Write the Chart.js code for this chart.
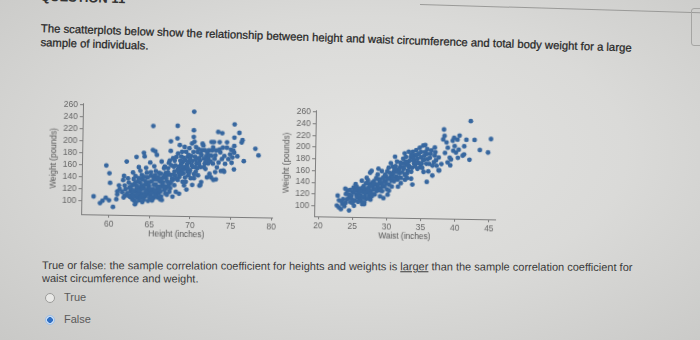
<!DOCTYPE html>
<html>
<head>
<meta charset="utf-8">
<script src="https://cdn.jsdelivr.net/npm/chart.js@4.4.0/dist/chart.umd.min.js"></script>
<style>
  html, body { margin: 0; width: 700px; height: 340px; overflow: hidden; }
  body {
    position: relative;
    font-family: "Liberation Sans", Arial, sans-serif;
    background:
      radial-gradient(ellipse 75% 80% at 52% 45%, #e3e3e1 0%, #dadad8 50%, #c8c8c6 100%);
  }
  .qnum { position: absolute; left: 40px; top: -10px; font-size: 13px; font-weight: bold; color: #333; transform: rotate(1.6deg); }
  .topline { position: absolute; left: 420px; top: 4px; width: 290px; height: 1px; background: #9a9a98; transform: rotate(1.7deg); transform-origin: 0 0; }
  .inbox { position: absolute; left: 691px; top: 8px; width: 20px; height: 36px; border: 1px solid #a5a5a3; border-radius: 3px; }
  .intro {
    position: absolute; left: 41px; top: 21px; width: 660px;
    font-size: 11.3px; line-height: 14px; color: #272727;
    -webkit-text-stroke: 0.25px #272727;
    transform: rotate(1.9deg); transform-origin: 0 7px;
  }
  .plots { position: absolute; left: 0; top: 0; width: 700px; height: 340px; transform: rotate(1deg); transform-origin: 300px 165px; }
  .plots canvas { position: absolute; }
  #heightChart { left: 30px; top: 90px; }
  #waistChart { left: 270px; top: 90px; }
  .question {
    position: absolute; left: 42px; top: 259px; width: 650px;
    font-size: 11px; line-height: 12.5px; color: #3a3a3a;
    transform: rotate(0.2deg); transform-origin: 0 6px;
  }
  .question u { text-decoration-thickness: 1px; }
  .opt { position: absolute; left: 45px; font-size: 11px; color: #5a5a5a; }
  .opt span.r {
    position: absolute; left: 0; top: 1px; width: 8px; height: 8px; border-radius: 50%;
    border: 1px solid #9c9c9a; background: #e9e9e7;
  }
  .opt span.r.on { border-color: #9cc0ea; background: radial-gradient(circle, #2f6fc4 0 45%, #cfe0f4 55%); }
  .opt span.t { position: absolute; left: 19px; top: -1px; white-space: nowrap; }
</style>
</head>
<body>
<div class="qnum">QUESTION 11</div>
<div class="topline"></div>
<div class="inbox"></div>

<div class="intro">The scatterplots below show the relationship between height and waist circumference and total body weight for a large<br>sample of individuals.</div>

<div class="plots">
  <canvas id="heightChart" width="250" height="160"></canvas>
  <canvas id="waistChart" width="240" height="160"></canvas>
</div>

<div class="question">True or false: the sample correlation coefficient for heights and weights is <u>larger</u> than the sample correlation coefficient for<br>waist circumference and weight.</div>
<div class="opt" style="top:292px"><span class="r"></span><span class="t">True</span></div>
<div class="opt" style="top:314px"><span class="r on"></span><span class="t">False</span></div>

<script>
/* ── Axes ── */
const heightTicks = [60, 65, 70, 75, 80];
const waistTicks  = [20, 25, 30, 35, 40, 45];
const weightTicks = [100, 120, 140, 160, 180, 200, 220, 240, 260];

/* ── Height (in) vs weight (lb) ── */
const heightPts = [
  [58.1,108],[58.9,97],[59.2,101],[59.6,106],[59.6,160],[60.0,147],[60.1,131],[60.0,102],[60.5,91],[60.9,104],
  [61.0,117],[61.0,112],[61.2,127],[61.3,121],[61.6,116],[61.7,136],[61.8,143],[61.9,127],[61.9,110],[61.8,107],
  [62.1,167],[62.3,139],[62.4,132],[62.5,124],[62.6,118],[62.8,113],[62.6,108],[62.9,104],[62.8,128],[63.0,138],[62.9,149],
  [63.1,102],[63.2,96],[63.3,99],[63.4,107],[63.5,116],[63.6,124],[63.3,121],[63.8,132],[63.2,143],[63.8,152],[63.6,158],
  [63.3,175],[64.0,113],[63.8,118],[63.1,129],[64.0,138],
  [64.2,182],[64.3,176],[64.5,157],[64.6,149],[64.7,141],[64.7,132],[64.2,124],[64.9,118],[64.5,110],[65.0,107],
  [64.7,114],[64.2,107],[64.9,127],[64.4,135],[65.1,144],[65.0,166],
  [65.3,227],[65.3,187],[65.6,185],[65.8,179],[65.5,160],[65.7,152],[65.4,143],[65.9,138],[65.5,129],[66.0,124],
  [65.3,118],[65.9,113],[65.5,107],[66.1,116],[65.2,135],[66.1,149],
  [66.5,104],[66.4,168],[66.7,157],[66.9,149],[66.6,141],[67.1,135],[66.5,129],[66.8,121],[66.3,118],[67.1,113],
  [66.2,135],[67.1,146],[66.9,127],[67.2,157],
  [67.5,202],[67.5,186],[67.8,174],[67.3,166],[67.9,160],[68.0,152],[67.5,146],[67.8,138],[68.0,129],[67.5,124],
  [68.2,118],[67.5,132],[68.0,170],[68.3,228],
  [68.3,207],[68.6,196],[68.4,182],[68.8,177],[69.0,168],[68.5,160],[68.7,154],[69.1,149],[68.6,143],[69.0,135],
  [68.4,138],[69.2,129],[68.8,164],[69.2,193],[69.3,157],
  [69.4,185],[69.6,177],[69.8,168],[69.5,163],[69.9,154],[69.7,146],[70.0,141],[69.4,135],[69.8,191],[70.1,199],
  [69.6,152],[70.2,160],[69.3,171],
  [70.3,252],[70.3,221],[70.3,210],[70.4,202],[70.6,193],[70.8,185],[70.5,177],[71.1,171],[70.7,166],[71.2,160],
  [70.6,152],[70.9,146],[70.4,141],[71.3,135],[71.1,129],[71.4,199],[71.2,182],
  [71.5,196],[71.7,188],[71.9,179],[71.6,174],[72.1,166],[71.8,157],[72.3,149],[72.0,143],[71.7,166],[72.2,188],[72.1,174],
  [72.5,202],[72.8,202],[72.7,193],[73.1,188],[72.5,179],[72.9,174],[72.7,166],[73.2,160],[73.0,152],[72.5,143],[72.8,139],
  [73.3,219],[73.8,217],[73.5,202],[73.9,193],[73.6,185],[74.1,179],[73.8,174],[74.2,166],[73.7,154],[74.1,153],
  [73.4,168],[74.4,193],[74.4,202],
  [75.3,232],[75.9,218],[75.3,210],[75.3,196],[74.9,190],[74.8,182],[75.3,185],[75.1,177],[74.6,174],[75.0,168],
  [75.3,157],[76.2,202],[76.3,206],[76.5,171],[75.7,179],[77.9,192],[78.3,181],
  [63.5,110],[63.7,103],[63.9,108],[64.1,100],[64.3,104],[64.4,115],[64.6,120],[64.8,102],[65.0,112],[65.2,109],
  [65.4,122],[65.6,115],[65.8,120],[66.0,108],[66.2,126],[66.4,110],[63.4,126],[63.6,140],[64.0,145],[64.6,130],
  [65.1,150],[65.5,138],[66.0,142],[66.6,133],[67.0,124],[67.4,118],[67.7,140],[68.1,145],[68.5,150],[69.0,155],
  [69.4,160],[69.8,150],[70.2,170],[70.5,160],[71.0,175],[62.0,121],[62.2,114],[62.7,122],[63.0,117],[63.2,132],
  [64.0,127],[64.9,133],[65.7,130],[66.3,148],[66.8,160],[67.2,150],[67.6,162],[68.2,176],[68.9,185],[69.6,168],
  [70.0,178],[70.9,190],[71.3,180],[72.0,185],[72.4,170],[73.0,180],[73.5,190],
  [68.6,115],[67.8,110],[70.2,130],[71.2,130],[69.5,122],[73.1,140],[74.0,155],[75.2,188],
  [63.0,110],[63.4,113],[63.7,119],[64.1,122],[64.3,128],[64.5,117],[64.8,124],[65.2,115],[65.3,103],[65.7,110],
  [65.9,126],[66.2,120],[66.4,139],[66.7,125],[66.9,115],[67.0,140],[67.3,128],[67.6,135],[67.9,147],[68.2,140],
  [68.4,155],[68.7,170],[68.9,160],[69.1,175],[69.3,142],[69.6,158],[69.9,172],[70.1,163],[70.3,185],[70.6,172],
  [70.8,158],[71.0,165],[71.3,188],[71.6,160],[71.9,170],[72.3,180],[72.6,188],[62.4,110],[62.9,118],[63.5,134],
  [64.3,142],[65.0,122],[65.6,145],[66.3,105],[66.8,145],[67.4,170],[68.1,162],[68.8,148],[69.7,180],[70.4,148]
];

/* ── Waist (in) vs weight (lb) ── */
const waistPts = [
  [22.8,118],[22.7,101],[23.0,98],[23.3,95],[24.5,93],[23.5,104],[23.0,110],[23.6,112],[24.0,121],[24.2,127],
  [23.9,130],[24.5,115],[24.7,107],[25.2,101],[25.0,124],[25.1,132],[25.4,138],[25.7,127],[25.9,115],[26.2,110],
  [25.5,120],[26.4,104],[26.7,104],
  [26.3,144],[26.6,135],[26.9,130],[27.1,124],[27.4,118],[27.6,127],[26.8,118],[27.9,135],[28.1,144],[27.0,149],
  [27.5,158],[27.7,161],[28.0,130],[27.6,112],[26.7,107],[27.4,138],[27.2,145],[26.4,127],
  [28.4,149],[28.6,155],[28.9,141],[29.1,132],[29.3,127],[29.6,135],[29.8,144],[28.5,127],[28.2,121],[29.0,118],
  [29.5,115],[30.1,121],[29.8,152],[29.2,161],[28.7,165],[30.0,161],[28.9,147],[29.6,144],
  [30.2,167],[30.5,175],[30.8,169],[31.0,161],[31.3,152],[31.5,147],[30.7,155],[31.0,144],[30.3,138],[31.8,158],
  [31.9,169],[31.4,178],[31.1,186],[31.6,135],[30.7,135],[32.0,141],
  [32.3,183],[32.5,192],[32.7,186],[33.0,178],[33.2,169],[33.5,161],[32.4,166],[32.9,158],[32.6,147],[33.4,186],
  [33.7,195],[34.0,189],[33.9,175],[33.5,149],[32.3,175],[33.1,195],[33.7,139],
  [34.2,198],[34.7,202],[35.2,206],[35.5,207],[34.9,195],[35.4,189],[34.4,183],[35.2,181],[35.7,175],[34.8,169],
  [35.3,161],[35.9,183],[35.8,192],[34.4,166],[35.8,144],[36.1,175],
  [36.4,198],[36.9,189],[37.1,181],[36.6,172],[37.5,164],[37.9,175],[37.0,195],[37.5,186],[36.9,203],[38.1,217],
  [36.6,155],[37.6,164],
  [38.2,234],[38.3,223],[38.6,212],[38.8,203],[38.4,194],[39.1,186],[39.3,183],[38.8,178],[39.6,198],[39.8,206],
  [39.2,173],[40.0,195],[39.5,215],[39.7,220],
  [40.5,224],[40.2,217],[40.4,200],[41.0,190],[41.2,206],[41.5,217],[42.0,183],[42.1,249],[42.7,217],[43.5,200],
  [44.7,196],[45.1,219],[40.3,186],[41.2,192],
  [24.2,112],[24.8,118],[25.3,110],[25.8,122],[26.0,130],[26.5,125],[26.9,140],[27.3,132],[27.8,141],[28.3,138],
  [28.8,146],[29.4,150],[29.9,140],[30.4,150],[30.9,158],[31.2,170],[31.7,165],[32.2,160],[32.8,172],[33.3,180],
  [33.8,185],[34.3,190],[34.9,186],[23.4,108],[24.6,128],[25.6,133],[26.2,118],[27.0,113],[28.0,122],[29.2,140],
  [30.0,130],[31.4,148],[32.6,155],[33.6,168],[34.6,176],[35.5,195],[36.2,185],[36.8,178],[23.8,100],[25.0,106],
  [26.0,112],[27.5,123],[28.6,132],[30.6,145],[32.0,150],[33.0,163],
  [24.0,106],[24.4,120],[24.9,112],[25.2,126],[25.6,116],[26.1,125],[26.4,132],[26.8,124],[27.2,128],[27.6,136],
  [28.0,140],[28.3,130],[28.7,138],[29.0,145],[29.4,136],[29.7,155],[30.1,148],[30.4,158],[30.8,150],[31.1,165],
  [31.5,160],[31.9,176],[32.3,168],[32.7,178],[33.1,172],[33.5,190],[33.9,180],[34.2,176],[34.6,192],[35.0,175],
  [35.4,182],[35.8,200],[36.3,192],[25.8,108],[26.6,115],[27.8,118],[29.0,128],[30.3,128],[31.7,150],[32.9,150],
  [34.1,170],[35.1,168],[36.0,162],[37.2,172]
];

const DOT = '#37679f';
const TICK_FONT  = { family: 'Liberation Sans', size: 8.5 };
const TITLE_FONT = { family: 'Liberation Sans', size: 8.3 };

function fixedTicks(values) {
  return scale => { scale.ticks = values.map(v => ({ value: v })); };
}

function scatterPlot(id, pts, x, y, box) {
  return new Chart(document.getElementById(id), {
    type: 'scatter',
    data: {
      datasets: [{
        data: pts.map(p => ({ x: p[0], y: p[1] })),
        backgroundColor: DOT,
        borderWidth: 0,
        pointRadius: 2.4,
      }],
    },
    options: {
      responsive: false, animation: false, events: [],
      layout: { padding: box.pad },
      plugins: { legend: { display: false }, tooltip: { enabled: false } },
      scales: {
        x: {
          min: x.min, max: x.max,
          afterBuildTicks: fixedTicks(x.ticks),
          afterFit: s => { s.height = box.xh; },
          grid: { drawOnChartArea: false, tickLength: 3, color: '#7d7d7d' },
          border: { color: '#7d7d7d' },
          ticks: { color: '#666', font: TICK_FONT, padding: 2, maxRotation: 0 },
          title: { display: true, text: x.title, color: '#555', font: TITLE_FONT, padding: 0 },
        },
        y: {
          min: y.min, max: y.max,
          afterBuildTicks: fixedTicks(weightTicks),
          afterFit: s => { s.width = box.yw; },
          grid: { drawOnChartArea: false, tickLength: 3, color: '#7d7d7d' },
          border: { color: '#7d7d7d' },
          ticks: { color: '#666', font: TICK_FONT, padding: 2 },
          title: { display: true, text: 'Weight (pounds)', color: '#555', font: TITLE_FONT, padding: 0 },
        },
      },
    },
  });
}

scatterPlot('heightChart', heightPts,
  { min: 56.6, max: 80.1, ticks: heightTicks, title: 'Height (inches)' },
  { min: 78, max: 263 },
  { pad: { left: 19, right: 7, top: 17, bottom: 8 }, yw: 33, xh: 24 });

scatterPlot('waistChart', waistPts,
  { min: 19.4, max: 45.9, ticks: waistTicks, title: 'Waist (inches)' },
  { min: 82, max: 263 },
  { pad: { left: 12, right: 14, top: 20, bottom: 10 }, yw: 33, xh: 24 });
</script>
</body>
</html>
